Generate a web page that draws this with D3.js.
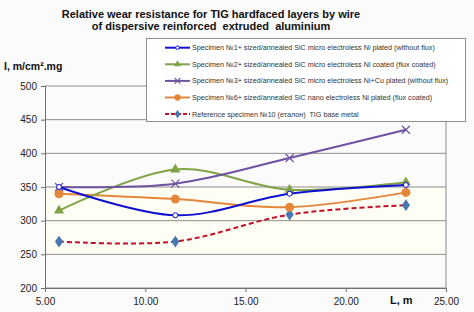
<!DOCTYPE html>
<html>
<head>
<meta charset="utf-8">
<script src="https://cdn.jsdelivr.net/npm/d3@7"></script>
<style>
  body { margin: 0; background: #fbfbfb; }
  svg { display: block; font-family: "Liberation Sans", Arial, sans-serif; }
  text { white-space: pre; }
</style>
</head>
<body>
<script>
const [width, height] = [474, 312];

// data
const xValues = [5.7, 11.5, 17.2, 23.0];
const spec1 = [350, 308, 340, 353];
const spec2 = [315, 376, 346, 357];
const spec3 = [350, 355, 393, 435];
const spec6 = [340, 332, 320, 342];
const ref10 = [269, 269, 309, 323];
const yTicks = [200, 250, 300, 350, 400, 450, 500];
const xTicks = [5, 10, 15, 20, 25];
const seriesNames = [
  'Specimen №1+ sized/annealed SiC micro electroless Ni plated (without flux)',
  'Specimen №2+ sized/annealed SiC micro electroless Ni coated (flux coated)',
  'Specimen №3+ sized/annealed SiC micro electroless Ni+Cu plated (without flux)',
  'Specimen №6+ sized/annealed SiC nano electroless Ni plated (flux coated)',
  'Reference specimen №10 (еталон)  TIG base metal'
];

const series = [
  {name: seriesNames[0], values: spec1, color: '#1010d0', marker: 'open'},
  {name: seriesNames[1], values: spec2, color: '#7fa447', marker: 'triangle'},
  {name: seriesNames[2], values: spec3, color: '#6f52a0', marker: 'cross'},
  {name: seriesNames[3], values: spec6, color: '#e4873a', marker: 'dot'},
  {name: seriesNames[4], values: ref10, color: '#c0102a', marker: 'diamond', dash: '5,3'}
];

const svg = d3.select('body').append('svg')
  .attr('width', width)
  .attr('height', height);

const x = d3.scaleLinear().domain([5, 25]).range([45, 446]);
const y = d3.scaleLinear().domain([200, 500]).range([288, 86]);

// faint tinted band inside plot
svg.append('rect')
  .attr('x', x(5)).attr('width', x(25) - x(5))
  .attr('y', y(350)).attr('height', y(250) - y(350))
  .attr('fill', '#fffef4');

// gridlines
svg.append('g')
  .selectAll('line')
  .data(yTicks)
  .enter()
  .append('line')
  .attr('x1', x(5)).attr('x2', x(25))
  .attr('y1', d => y(d)).attr('y2', d => y(d))
  .attr('stroke', '#8c8c8c')
  .attr('stroke-width', 1);

// right edge of plot
svg.append('line')
  .attr('x1', x(25)).attr('x2', x(25))
  .attr('y1', y(500)).attr('y2', y(200))
  .attr('stroke', '#8c8c8c');

const axisY = d3.axisLeft(y).tickValues(yTicks).tickSize(4).tickPadding(4);
const gy = svg.append('g')
  .attr('transform', `translate(${x(5)},0)`)
  .call(axisY);

const axisX = d3.axisBottom(x).tickValues(xTicks).tickSize(4).tickPadding(4)
  .tickFormat(d3.format('.2f'));
const gx = svg.append('g')
  .attr('transform', `translate(0,${y(200)})`)
  .call(axisX);

[gx, gy].forEach(g => {
  g.select('.domain').attr('stroke', '#707070');
  g.selectAll('.tick line').attr('stroke', '#707070');
  g.selectAll('.tick text')
    .attr('fill', '#222')
    .style('font-size', '10px')
    .style('font-family', '"Liberation Sans", Arial, sans-serif');
});
gx.selectAll('.tick text').attr('dy', '0.9em');

// lines
const line = d3.line()
  .x((d, i) => x(xValues[i]))
  .y(d => y(d))
  .curve(d3.curveCatmullRom.alpha(0));

function drawMarker(g, type, color, cx, cy, small) {
  const s = small ? 0.7 : 1;
  if (type === 'open') {
    g.append('circle').attr('cx', cx).attr('cy', cy).attr('r', 2.5 * s)
      .attr('fill', '#fff').attr('stroke', color).attr('stroke-width', 1);
  } else if (type === 'triangle') {
    g.append('path')
      .attr('d', d3.symbol(d3.symbolTriangle, 45 * s * s)())
      .attr('transform', `translate(${cx},${cy})`)
      .attr('fill', color);
  } else if (type === 'cross') {
    const r = 4 * s;
    g.append('path')
      .attr('d', `M${cx - r},${cy - r}L${cx + r},${cy + r}M${cx - r},${cy + r}L${cx + r},${cy - r}`)
      .attr('stroke', color).attr('stroke-width', 1.2);
  } else if (type === 'dot') {
    g.append('circle').attr('cx', cx).attr('cy', cy).attr('r', 4.5 * s)
      .attr('fill', color);
  } else if (type === 'diamond') {
    g.append('path')
      .attr('d', d3.symbol(d3.symbolDiamond, 40 * s * s)())
      .attr('transform', `translate(${cx},${cy}) scale(1.2,1)`)
      .attr('fill', '#4577b2');
  }
}

const drawOrder = [4, 3, 1, 2, 0];
drawOrder.forEach(k => {
  const s = series[k];
  const g = svg.append('g');
  g.append('path')
    .attr('d', line(s.values))
    .attr('fill', 'none')
    .attr('stroke', s.color)
    .attr('stroke-width', 2)
    .attr('stroke-dasharray', s.dash || null);
  s.values.forEach((v, i) => drawMarker(g, s.marker, s.color, x(xValues[i]), y(v), false));
});

// titles
svg.append('text')
  .attr('x', 211).attr('y', 18)
  .attr('text-anchor', 'middle')
  .style('font-size', '11px').style('font-weight', 'bold')
  .attr('fill', '#111')
  .text('Relative wear resistance for TIG hardfaced layers by wire');
svg.append('text')
  .attr('x', 211).attr('y', 29.5)
  .attr('text-anchor', 'middle')
  .style('font-size', '11px').style('font-weight', 'bold')
  .attr('fill', '#111')
  .text('of dispersive reinforced  extruded  aluminium');

svg.append('text')
  .attr('x', 4).attr('y', 70)
  .style('font-size', '10.5px').style('font-weight', 'bold')
  .attr('fill', '#111')
  .text('I, m/cm².mg');

svg.append('text')
  .attr('x', 390).attr('y', 304)
  .style('font-size', '11px').style('font-weight', 'bold')
  .attr('fill', '#111')
  .text('L, m');

// legend
const legend = svg.append('g');
legend.append('rect')
  .attr('x', 146.5).attr('y', 38.5)
  .attr('width', 319).attr('height', 83)
  .attr('fill', '#fff')
  .attr('stroke', '#8c8c8c');

series.forEach((s, i) => {
  const ly = 47.7 + i * 16.6;
  const row = legend.append('g');
  row.append('line')
    .attr('x1', 165).attr('x2', 190)
    .attr('y1', ly).attr('y2', ly)
    .attr('stroke', s.color).attr('stroke-width', 2)
    .attr('stroke-dasharray', s.dash ? '4,2' : null);
  drawMarker(row, s.marker, s.color, 177.5, ly, true);
  row.append('text')
    .attr('x', 192).attr('y', ly + 2.5)
    .style('font-size', '7.2px')
    .attr('fill', '#333')
    .text(s.name);
});
</script>
</body>
</html>
